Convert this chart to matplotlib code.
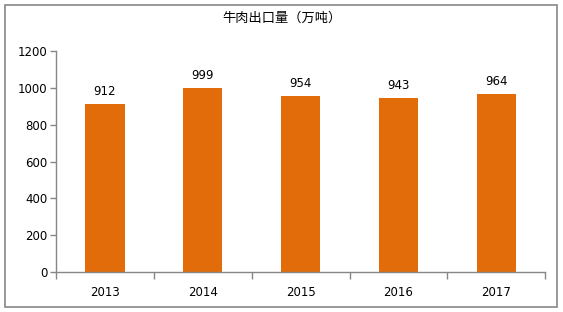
import matplotlib.pyplot as plt
from matplotlib.patches import Rectangle

plt.rcParams['font.family'] = ['DejaVu Sans', 'Noto Sans CJK SC']

years = ['2013', '2014', '2015', '2016', '2017']
exports = [912, 999, 954, 943, 964]
title = '牛肉出口量（万吨）'

bar_color = '#E36C0A'
axis_color = '#868686'

fig = plt.figure(figsize=(5.63, 3.12), dpi=100)
ax = fig.add_axes([0.0995, 0.128, 0.869, 0.7085])

x = range(len(years))
bars = ax.bar(x, exports, width=0.4, color=bar_color, zorder=2)
for xi, v in zip(x, exports):
    ax.text(xi, v + 35, str(v), ha='center', va='bottom', fontsize=8.5, color='#000000')

ax.set_xlim(-0.5, len(years) - 0.5)
ax.set_ylim(0, 1200)
ax.set_yticks(range(0, 1201, 200))
ax.set_xticks(x)
ax.set_xticklabels(years)
ax.set_xticks([i - 0.5 for i in range(len(years) + 1)], minor=True)

for s in ['top', 'right']:
    ax.spines[s].set_visible(False)
for s in ['left', 'bottom']:
    ax.spines[s].set_color(axis_color)
    ax.spines[s].set_linewidth(1)

ax.tick_params(axis='y', colors=axis_color, labelcolor='#000000', labelsize=8.5,
               length=4, width=1, pad=2)
ax.tick_params(axis='x', which='major', length=0, labelsize=8.5, labelcolor='#000000', pad=10)
ax.tick_params(axis='x', which='minor', length=5, width=1, colors=axis_color)

fig.text(0.5, 0.94, title, ha='center', va='center', fontsize=9.5,
         family=['Noto Sans CJK SC', 'DejaVu Sans'])

fig.patches.append(Rectangle((0.008, 0.016), 0.982, 0.968, transform=fig.transFigure,
                             fill=False, edgecolor=axis_color, linewidth=1.2))

fig.savefig('out.png', dpi=100)
